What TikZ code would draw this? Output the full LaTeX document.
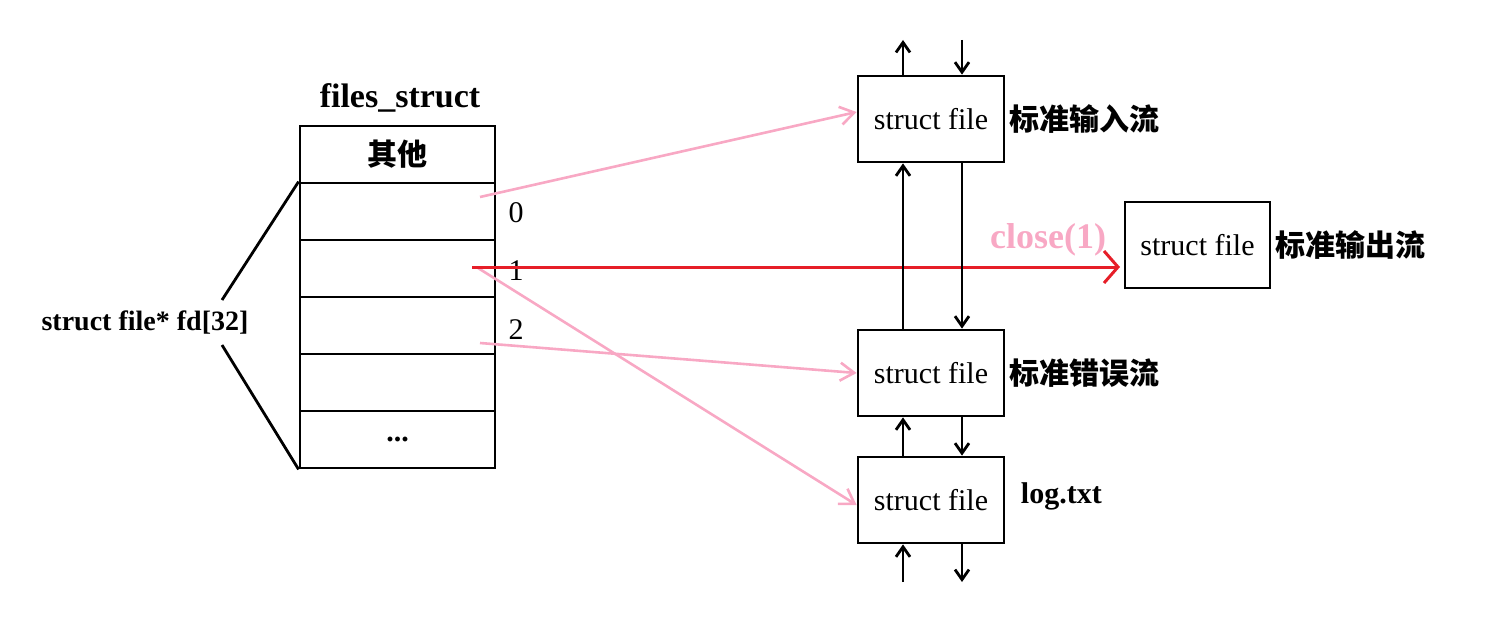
\documentclass[tikz,border=0pt]{standalone}
\usepackage{fontspec}
\setmainfont{Liberation Serif}
\newfontfamily\cjk{Noto Sans CJK SC}
\usetikzlibrary{arrows.meta}
\definecolor{pk}{RGB}{248,168,196}
\definecolor{rd}{RGB}{230,30,40}
\begin{document}
\begin{tikzpicture}[x=1pt,y=-1pt,
  row/.style={draw,line width=2.8pt,minimum width=195pt,minimum height=57pt,inner sep=0pt,font=\fontsize{30}{30}\selectfont},
  sf/.style={draw,line width=2.8pt,minimum width=146pt,minimum height=86pt,inner sep=0pt,font=\fontsize{30}{30}\selectfont},
  lbl/.style={anchor=west,inner sep=4pt,font=\fontsize{30}{30}\selectfont\cjk\bfseries},
  blk/.style={line width=2.8pt,-{Straight Barb[length=10pt,width=14pt]}},
  pka/.style={pk,line width=2.6pt,-{Straight Barb[length=14pt,width=18pt]}}]
\useasboundingbox (0,0) rectangle (1495,634);
\node at (400,98) [font=\fontsize{34}{34}\selectfont\bfseries] (title) {files\_struct};
\node[row] (r0) at (397.5,154.5) {\cjk\bfseries 其他};
\node[row] (r1) at (397.5,211.5) {};
\node[row] (r2) at (397.5,268.5) {};
\node[row] (r3) at (397.5,325.5) {};
\node[row] (r4) at (397.5,382.5) {};
\node[row] (r5) at (397.5,439.5) {\bfseries ...};
\coordinate (b1) at (222,300); \coordinate (b2) at (222,345);
\draw[line width=2.8pt] (r1.north west) -- (b1) (b2) -- (r5.south west);
\node[font=\fontsize{28}{28}\selectfont\bfseries] (fd) at (145,323) {struct file* fd[32]};
\node[font=\fontsize{30}{30}\selectfont] (n0) at (516,213) {0};
\node[font=\fontsize{30}{30}\selectfont] (n1) at (516,271) {1};
\node[font=\fontsize{30}{30}\selectfont] (n2) at (516,330) {2};
\node[sf] (in) at (931,119) {struct file};
\node[sf] (err) at (931,373) {struct file};
\node[sf] (log) at (931,500) {struct file};
\node[sf,minimum width=145pt] (out) at (1197.5,245) {struct file};
\node[lbl] at (in.east) {标准输入流};
\node[lbl] at (err.east) {标准错误流};
\node[lbl] at (out.east) {标准输出流};
\node[anchor=west,font=\bfseries\fontsize{30}{30}\selectfont] at ([xshift=12pt,yshift=4pt]log.east) {log.txt};
\node[pk,font=\fontsize{36}{36}\selectfont\bfseries] (cl) at (1048,240) {close(1)};
\coordinate (p0) at (480,197); \coordinate (p1) at (478,268); \coordinate (p2) at (480,343);
\coordinate (p3) at (1120,267);
\draw[pka] (p0) -- ([yshift=7pt]in.west);
\draw[pka] (p2) -- (err.west);
\draw[pka] (p1) -- ([yshift=-5pt]log.west);
\draw[rd,line width=3pt,-{Straight Barb[length=14pt,width=32pt]}] (472,267) -- (p3);
\draw[blk] ([xshift=-28pt]err.north) -- ([xshift=-28pt]in.south);
\draw[blk] ([xshift=31pt]in.south) -- ([xshift=31pt]err.north);
\coordinate (t1) at (903,40); \coordinate (t2) at (962,40);
\draw[blk] ([xshift=-28pt]in.north) -- (t1);
\draw[blk] (t2) -- ([xshift=31pt]in.north);
\draw[blk] ([xshift=-28pt]log.north) -- ([xshift=-28pt]err.south);
\draw[blk] ([xshift=31pt]err.south) -- ([xshift=31pt]log.north);
\coordinate (u1) at (903,582); \coordinate (u2) at (962,582);
\draw[blk] (u1) -- ([xshift=-28pt]log.south);
\draw[blk] ([xshift=31pt]log.south) -- (u2);
\end{tikzpicture}
\end{document}
